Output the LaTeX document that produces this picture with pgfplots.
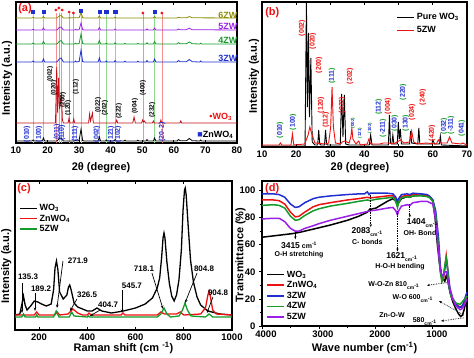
\documentclass[border=0pt]{standalone}
\usepackage{fontspec}
\setmainfont{Liberation Sans}
\usepackage{pgfplots}
\pgfplotsset{compat=1.18}
\usetikzlibrary{arrows.meta}
\definecolor{olv}{HTML}{8C8C00}
\definecolor{prp}{HTML}{9B1FE8}
\definecolor{grn}{HTML}{149B2A}
\definecolor{blu}{HTML}{1F2FD0}
\definecolor{rd}{HTML}{EE1111}
\definecolor{dred}{HTML}{C0101A}
\definecolor{lgrn}{HTML}{8FD88F}
\definecolor{lred}{HTML}{F59090}
\pgfplotsset{
  myax/.style={scale only axis, axis line style={line width=1.3pt},
    tick style={line width=0.8pt, black}, major tick length=3pt, minor tick length=2pt,
    ticklabel style={font=\bfseries\fontsize{9.5}{10}\selectfont},
    /pgf/number format/assume math mode=true, /pgf/number format/1000 sep={},
    label style={font=\bfseries\fontsize{11}{12}\selectfont},
    clip=false, legend cell align=left,
  }
}
\newcommand{\gb}[1]{{\color{grn}(}#1{\color{grn})}}
\begin{document}
\begin{tikzpicture}
\useasboundingbox (0,0) rectangle (474pt,357pt);
% ---------------- (a)
\begin{axis}[myax, at={(16pt,355pt)}, anchor=north west, width=221pt, height=141pt,
  xmin=10, xmax=80, ymin=0, ymax=141, xtick={10,20,...,80}, ytick=\empty, tick align=inside,
  xlabel={2θ (degree)}, ylabel={Intenisty (a.u.)},
  xlabel style={at={(axis description cs:0.385,-0.177)}, anchor=center},
  ylabel style={at={(axis description cs:-0.041,0.46)}, anchor=center}]
\addplot[ycomb, draw=lgrn, line width=0.6pt] coordinates {(15.4,130)(18.7,130)(30.6,130)(36.4,130)(38.6,130)(41.4,130)(53.9,130)};
\addplot[ycomb, draw=lred, line width=0.6pt] coordinates {(22.9,130)(23.6,130)(24.5,130)(26.8,130)(28.2,130)(50.2,130)(56.2,130)};
\addplot[only marks, mark=square*, mark size=1.6pt, blu] coordinates {(15.4,131)(18.7,131)(30.6,132)(36.4,131)(38.6,131)(41.4,131)(53.9,131)};
\addplot[only marks, mark=*, mark size=1.2pt, rd] coordinates {(22.6,133)(23.6,135)(24.6,133)(26.8,131)(28.2,130)(50.2,130)(56.2,130)};
\addplot[black, line width=0.8pt] coordinates {(10,2)(15.0,2)(15.4,3)(15.8,2)(18.3,2)(18.7,5)(19.1,2)(23.0,2)(23.7,4.5)(24.3,5)(25.0,2)(28.6,2)(28.9,3)(29.2,2)(30.0,2.5)(30.6,14)(31.1,2.5)(31.6,2)(36.0,2)(36.4,6)(36.8,2)(38.3,2)(38.6,3)(38.9,2)(41.1,2)(41.4,3.5)(41.7,2)(44.2,2)(44.5,2.8)(44.8,2)(48.3,2)(48.6,2.8)(48.9,2)(51.2,2)(51.5,3.5)(51.8,2)(53.5,2)(53.9,5)(54.3,2)(61.0,2)(61.5,3.5)(62.0,2.3)(64.0,2.3)(64.9,4.5)(65.8,2.3)(68.2,2)(68.5,3)(68.8,2)(80,2)};
\addplot[dred, line width=0.8pt] coordinates {(10,20)(22.5,20)(22.9,76)(23.2,30)(23.5,65)(23.8,34)(24.4,50)(24.7,23)(25.0,20)(26.5,20)(26.8,25)(27.1,20)(28.0,20)(28.3,24)(28.6,20)(33.0,20)(33.3,29)(33.6,22)(34.2,30)(34.5,20)(41.6,20)(41.9,23)(42.2,20)(47.0,20)(47.4,26)(47.8,20)(49.8,20)(50.1,23)(50.4,21)(50.7,22)(51.0,20)(53.2,20)(53.5,22)(53.8,20)(55.6,20)(55.9,23)(56.2,20)(61.9,20)(62.2,22)(62.5,20)(80,20)};
\addplot[blu, line width=0.8pt] coordinates {(10,81)(15.0,81)(15.4,82)(15.8,81)(18.3,81)(18.7,84)(19.1,81)(23.0,81)(23.7,84)(24.3,85)(25.0,81)(28.6,81)(28.9,82)(29.2,81)(30.0,81.5)(30.6,93)(31.1,81.5)(31.6,81)(36.0,81)(36.4,85)(36.8,81)(38.3,81)(38.6,82)(38.9,81)(41.1,81)(41.4,82.5)(41.7,81)(44.2,81)(44.5,81.8)(44.8,81)(48.3,81)(48.6,81.8)(48.9,81)(51.2,81)(51.5,82.5)(51.8,81)(53.5,81)(53.9,84)(54.3,81)(61.0,81)(61.5,82.5)(62.0,81.3)(64.0,81.3)(64.9,83.5)(65.8,81.3)(68.2,81)(68.5,82)(68.8,81)(80,81)};
\addplot[grn, line width=0.8pt] coordinates {(10,99)(15.0,99)(15.4,100)(15.8,99)(18.3,99)(18.7,101.5)(19.1,99)(23.0,99)(23.7,101.5)(24.3,102.5)(25.0,99)(28.6,99)(28.9,99.8)(29.2,99)(30.0,99.5)(30.6,109)(31.1,99.5)(31.6,99)(36.0,99)(36.4,102.5)(36.8,99)(38.3,99)(38.6,99.8)(38.9,99)(41.1,99)(41.4,100.3)(41.7,99)(44.2,99)(44.5,99.7)(44.8,99)(48.3,99)(48.6,99.7)(48.9,99)(51.2,99)(51.5,100.3)(51.8,99)(53.5,99)(53.9,101.5)(54.3,99)(61.0,99)(61.5,100.3)(62.0,99.3)(64.0,99.3)(64.9,101)(65.8,99.3)(68.2,99)(68.5,99.8)(68.8,99)(80,99)};
\addplot[prp, line width=0.8pt] coordinates {(10,113)(15.0,113)(15.4,113.7)(15.8,113)(18.3,113)(18.7,115)(19.1,113)(23.0,113)(23.7,115.5)(24.3,116)(25.0,113)(28.6,113)(28.9,113.7)(29.2,113)(30.0,113.4)(30.6,120)(31.1,113.4)(31.6,113)(36.0,113)(36.4,115.5)(36.8,113)(41.1,113)(41.4,114)(41.7,113)(51.2,113)(51.5,114)(51.8,113)(53.5,113)(53.9,115)(54.3,113)(61.0,113)(61.5,114)(62.0,113.3)(64.0,113.3)(64.9,114.8)(65.8,113.3)(80,113)};
\addplot[olv, line width=0.8pt] coordinates {(10,125)(15.0,125)(15.4,125.6)(15.8,125)(18.3,125)(18.7,126.5)(19.1,125)(23.0,125)(23.7,127)(24.3,127.5)(25.0,125)(30.0,125.3)(30.6,130.5)(31.1,125.3)(31.6,125)(36.0,125)(36.4,127)(36.8,125)(41.1,125)(41.4,125.8)(41.7,125)(53.5,125)(53.9,126.5)(54.3,125)(61.0,125)(61.5,125.8)(62.0,125.2)(64.0,125.2)(64.9,126.5)(65.8,125.2)(80,125)};
\node[font=\bfseries\fontsize{11}{12}\selectfont, text=rd, anchor=north west, inner sep=1pt] at (rel axis cs:0.005,0.995) {(a)};
\begin{scope}[every node/.style={font=\bfseries\fontsize{9}{10}\selectfont, anchor=west, inner sep=0pt}]
\node[text=olv] at (axis cs:74,128) {6ZW};
\node[text=prp] at (axis cs:74,117) {5ZW};
\node[text=grn] at (axis cs:74,103) {4ZW};
\node[text=blu] at (axis cs:74,85) {3ZW};
\node[text=rd] at (axis cs:71.2,26) {•WO\textsubscript{3}};
\node at (axis cs:67.4,8) {{\color{blu}■}ZnWO\textsubscript{4}};
\end{scope}
\begin{scope}[every node/.style={font=\bfseries\fontsize{6.5}{7}\selectfont, rotate=90, inner sep=0pt}]
\node at (axis cs:20.8,69) {(002)};
\node at (axis cs:22.0,55) {(020)};
\node at (axis cs:24.9,43) {(200)};
\node at (axis cs:26.5,35) {(120)};
\node at (axis cs:29.0,56) {(112)};
\node at (axis cs:36.0,38) {(022)};
\node at (axis cs:38.2,35) {(202)};
\node at (axis cs:42.6,32) {(222)};
\node at (axis cs:47.7,37) {(004)};
\node at (axis cs:50.2,55) {(400)};
\node at (axis cs:53.1,33) {(232)};
\end{scope}
\begin{scope}[every node/.style={font=\bfseries\fontsize{7}{7}\selectfont, rotate=90, inner sep=0pt, text=blu}]
\node at (axis cs:13.5,9) {(010)};
\node at (axis cs:17.3,9) {(100)};
\node at (axis cs:23.0,11) {(011)};
\node at (axis cs:24.6,10) {(110)};
\node at (axis cs:28.7,9) {(111)};
\node at (axis cs:35.6,9) {(002)};
\node at (axis cs:40.1,9) {(121)};
\node at (axis cs:42.3,9) {(102)};
\node at (axis cs:56.3,11) {(20-2)};
\end{scope}
\end{axis}
% ---------------- (b)
\begin{axis}[myax, at={(262pt,355pt)}, anchor=north west, width=205pt, height=145pt,
  xmin=10, xmax=70, ymin=0, ymax=145, xtick={10,20,...,70}, ytick=\empty, tick align=inside,
  xlabel={2θ (degree)}, ylabel={Intensity (a.u.)},
  xlabel style={at={(axis description cs:0.478,-0.145)}, anchor=center},
  ylabel style={at={(axis description cs:-0.039,0.49)}, anchor=center},
  legend style={at={(0.985,0.95)}, anchor=north east, draw=none, fill=none, font=\bfseries\fontsize{9}{10}\selectfont, row sep=1pt}]
\addplot[black, line width=0.9pt] coordinates {(10,1)(22.6,1)(23.0,145)(23.3,40)(23.6,114)(23.9,30)(24.3,89)(24.7,5)(25.5,2)(26.3,2)(26.6,17)(26.9,3)(27.2,2)(28.3,2)(28.6,17)(28.9,3)(29.2,2)(32.9,2)(33.3,53)(33.7,10)(34.1,52)(34.5,3)(35.5,2)(41.4,2)(41.8,12)(42.2,2)(47.0,2)(47.3,32)(47.6,4)(48.0,3)(48.3,12)(48.6,3)(49.6,3)(49.9,25)(50.2,8)(50.5,18)(50.8,3)(53.2,3)(53.5,16)(53.8,4)(55.6,3)(55.9,19)(56.2,3)(59.7,3)(60.0,7)(60.5,3)(61.9,3)(62.2,11)(62.5,2)(70,1)};
\addlegendentry{Pure WO\textsubscript{3}}
\addplot[rd, line width=0.9pt] coordinates {(10,2)(15.0,2)(15.4,4)(15.8,2)(18.5,2)(18.9,13)(19.3,2)(22.5,3)(23.5,12)(24.0,20)(24.5,14)(25.5,4)(28.5,3)(29.5,4)(30.1,20)(30.5,60)(30.9,20)(31.5,4)(33.0,3)(33.5,5)(34.2,6)(35.5,4)(36.0,10)(36.3,19)(36.6,8)(37.5,3)(38.3,6)(38.8,2)(40.8,3)(41.3,8)(41.8,3)(44.5,3)(45.5,4)(47.0,4)(48.5,3)(50.5,7)(51.5,4)(53.2,5)(53.8,16)(54.4,5)(55.5,3)(58,4)(61.0,3)(61.6,7)(62.2,4)(64.2,4)(64.9,10)(65.6,4)(68.3,3)(68.7,4)(70,2)};
\addlegendentry{5ZW}
\node[font=\bfseries\fontsize{11}{12}\selectfont, text=rd, anchor=north west, inner sep=1pt] at (rel axis cs:0.01,0.97) {(b)};
\begin{scope}[every node/.style={font=\bfseries\fontsize{7}{7}\selectfont, rotate=90, inner sep=0pt, text=rd}]
\node at (axis cs:21.7,119) {(002)};
\node at (axis cs:24.9,106) {(020)};
\node at (axis cs:26.7,82) {(200)};
\node at (axis cs:27.3,42) {(120)};
\node at (axis cs:28.7,27) {(112)};
\node at (axis cs:33.4,42) {(022)};
\node at (axis cs:35.8,71) {(202)};
\node at (axis cs:46.9,41) {(004)};
\node at (axis cs:53.9,35) {(024)};
\node at (axis cs:57.1,50) {(240)};
\node at (axis cs:59.8,14) {(420)};
\end{scope}
\begin{scope}[every node/.style={font=\bfseries\fontsize{7}{7}\selectfont, rotate=90, inner sep=0pt, text=blu}]
\node at (axis cs:15.3,17) {\gb{010}};
\node at (axis cs:19.1,25) {\gb{100}};
\node at (axis cs:30.5,71) {\gb{111}};
\node at (axis cs:44.2,40) {\gb{112}};
\node at (axis cs:45.4,19) {\gb{-211}};
\node at (axis cs:48.9,24) {\gb{030}};
\node at (axis cs:51.3,55) {\gb{220}};
\node at (axis cs:52.1,24) {\gb{130}};
\node at (axis cs:63.3,21) {\gb{032}};
\node at (axis cs:65.3,22) {\gb{-311}};
\node at (axis cs:68.5,19) {\gb{041}};
\end{scope}
\begin{scope}[every node/.style={font=\bfseries\fontsize{4.5}{5}\selectfont, rotate=90, inner sep=0pt, text=blu}]
\node at (axis cs:36.6,24) {\gb{002}};
\node at (axis cs:38.7,14) {\gb{121}};
\node at (axis cs:41.6,19) {\gb{102}};
\end{scope}
\end{axis}
% ---------------- (c)
\begin{axis}[myax, at={(15pt,176pt)}, anchor=north west, width=217pt, height=149pt,
  xmin=100, xmax=1000, ymin=0, ymax=149, xtick={200,400,...,1000}, ytick=\empty, tick align=inside,
  xlabel={Raman shift (cm \textsuperscript{-1})}, ylabel={Intensity (a.u.)},
  xlabel style={at={(axis description cs:0.5,-0.12)}, anchor=center},
  ylabel style={at={(axis description cs:-0.04,0.43)}, anchor=center},
  legend style={at={(0.005,0.87)}, anchor=north west, draw=none, fill=none, font=\bfseries\fontsize{9}{10}\selectfont, row sep=-1.5pt}]
\addplot[black, line width=1.3pt] coordinates {(100,15)(120,16)(128,25)(135,34)(142,25)(150,20)(165,24)(180,29)(195,28)(210,26)(230,24)(250,26)(260,40)(266,62)(272,69)(278,60)(285,38)(300,31)(315,35)(322,43)(327,45)(333,40)(345,27)(360,23)(400,19)(420,19)(440,22)(460,19)(500,17)(550,19)(600,22)(640,26)(670,32)(690,42)(700,52)(708,72)(714,92)(718,97)(722,92)(730,68)(740,47)(750,34)(760,29)(770,35)(780,50)(790,80)(797,120)(803,140)(806,142)(810,135)(818,105)(828,70)(840,48)(855,33)(870,25)(900,19)(950,16)(1000,15)};
\addlegendentry{WO\textsubscript{3}}
\addplot[rd, line width=1.3pt] coordinates {(100,15)(180,15)(190,18)(200,15)(265,15)(275,18)(285,15)(320,16)(340,21)(360,17)(380,15)(400,15)(407,17)(415,15)(540,15)(548,17)(556,15)(690,15)(705,18)(720,16)(770,16)(785,18)(800,15)(870,16)(890,22)(900,35)(905,39)(910,34)(920,20)(935,16)(1000,15)};
\addlegendentry{ZnWO\textsubscript{4}}
\addplot[grn, line width=1.3pt] coordinates {(100,13)(128,13)(135,16)(142,13)(185,13)(190,15)(195,13)(260,13)(271,19)(282,13)(325,13)(335,18)(345,14)(400,13)(405,14)(410,13)(690,13)(705,16)(718,22)(730,16)(745,13)(780,14)(795,20)(805,27)(815,20)(830,14)(890,13)(905,16)(920,13)(1000,13)};
\addlegendentry{5ZW}
\node[font=\bfseries\fontsize{11}{12}\selectfont, text=rd, anchor=north west, inner sep=1pt] at (rel axis cs:0.005,0.99) {(c)};
\begin{scope}[every node/.style={font=\bfseries\fontsize{8}{9}\selectfont, inner sep=0pt}, arr/.style={-{Stealth[length=3.5pt]}, line width=0.7pt}]
\node at (axis cs:154,53) {135.3};
\draw[arr] (axis cs:129,47) -- (axis cs:129,17);
\node at (axis cs:208,41) {189.2};
\draw[arr] (axis cs:183,37) -- (axis cs:183,19);
\node at (axis cs:361,69) {271.9};
\draw[arr] (axis cs:299,69) -- (axis cs:274,22);
\node at (axis cs:399,35) {326.5};
\draw[arr] (axis cs:357,31) -- (axis cs:328,19);
\node at (axis cs:486,25) {404.7};
\draw[arr] (axis cs:453,20) -- (axis cs:411,14);
\node at (axis cs:585,44) {545.7};
\draw[arr] (axis cs:544,40) -- (axis cs:544,17);
\node at (axis cs:635,61) {718.1};
\draw[arr] (axis cs:668,57) -- (axis cs:714,21);
\node at (axis cs:884,61) {804.8};
\draw[arr] (axis cs:855,57) -- (axis cs:805,27);
\node at (axis cs:942,37) {904.8};
\draw[arr] (axis cs:921,33) -- (axis cs:896,17);
\end{scope}
\end{axis}
% ---------------- (d)
\begin{axis}[myax, at={(262pt,176pt)}, anchor=north west, width=205pt, height=145pt,
  x dir=reverse, xmin=400, xmax=4000, ymin=0, ymax=107, xtick={1000,2000,3000,4000}, ytick={0,20,...,100},
  minor x tick num=1, minor y tick num=1, tick align=outside, xtick pos=bottom, ytick pos=left,
  xticklabel style={yshift=2pt, xshift=4pt},
  xlabel={Wave number (cm\textsuperscript{-1})}, ylabel={Transmittance (\%)},
  xlabel style={at={(axis description cs:0.5,-0.15)}, anchor=center},
  ylabel style={at={(axis description cs:-0.105,0.49)}, anchor=center},
  legend style={at={(0.005,0.41)}, anchor=north west, draw=none, fill=none, font=\bfseries\fontsize{9}{10}\selectfont, row sep=-1.2pt}]
\addplot[black, line width=1.5pt] coordinates {(4000,65.5)(3800,66.5)(3600,67.5)(3500,68)(3415,68.5)(3300,69.5)(3000,72.5)(2800,74.5)(2500,78)(2300,81)(2150,84)(2100,86.5)(2083,86)(2060,86.5)(2000,87)(1900,89.5)(1800,92)(1700,94)(1650,92)(1621,89)(1600,91)(1550,94)(1450,95.5)(1404,95)(1350,96)(1200,96.5)(1100,96)(1050,95)(1000,92)(960,80)(920,60)(880,45)(850,38)(820,35)(790,33)(760,38)(740,34)(700,25)(650,18)(600,13)(550,9)(510,7)(480,8)(450,12)(420,18)(400,23)};
\addlegendentry{WO\textsubscript{3}}
\addplot[rd, line width=1.5pt] coordinates {(4000,93)(3800,93)(3700,92.5)(3600,90)(3500,84)(3415,80.5)(3350,81)(3250,84)(3100,88)(3000,89.5)(2800,91)(2500,93)(2300,94)(2150,95)(2100,94.5)(2000,95)(1800,96)(1700,96)(1650,93)(1621,88.5)(1600,92)(1550,95.5)(1450,96.5)(1404,96)(1350,97)(1200,96.5)(1100,96)(1050,95)(1000,93)(950,82)(900,60)(870,42)(840,33)(810,35)(785,45)(765,52)(745,45)(720,32)(680,22)(600,16)(520,14)(480,15)(440,18)(400,22)};
\addlegendentry{ZnWO\textsubscript{4}}
\addplot[blu, line width=1.5pt] coordinates {(4000,97.5)(3800,97.5)(3700,97)(3600,95)(3500,90)(3415,87.5)(3350,88)(3250,91)(3100,94)(3000,95)(2800,96)(2500,97)(2300,97.5)(2200,97.5)(2150,99)(2120,97)(2100,98)(2000,98)(1800,98)(1700,97.5)(1650,95)(1621,91.5)(1600,94)(1550,97)(1450,97.5)(1404,97)(1350,98)(1200,97.5)(1100,97)(1050,95.5)(1000,93)(950,85)(900,65)(870,45)(840,35)(810,38)(780,45)(760,48)(740,42)(700,28)(650,20)(600,17)(550,14)(500,14)(470,16)(440,20)(400,25)};
\addlegendentry{3ZW}
\addplot[grn, line width=1.5pt] coordinates {(4000,89)(3800,89.5)(3700,89)(3600,87)(3500,81)(3415,78)(3350,78.5)(3250,81.5)(3100,85)(3000,86.5)(2800,88.5)(2500,90.5)(2300,92)(2150,93)(2100,92.5)(2000,93.5)(1800,94.5)(1700,95)(1650,92)(1621,87.5)(1600,91.5)(1550,94.5)(1450,95.5)(1404,95)(1350,96)(1200,96)(1100,95.5)(1050,94.5)(1000,92)(950,82)(900,58)(870,40)(840,33)(810,37)(785,46)(765,50)(745,44)(720,30)(680,22)(600,17)(520,16)(480,18)(440,20)(400,22)};
\addlegendentry{4ZW}
\addplot[prp, line width=1.5pt] coordinates {(4000,79)(3800,79.5)(3700,79.5)(3600,77)(3500,72)(3415,70)(3350,70)(3250,72)(3100,74)(3000,75.5)(2800,78)(2500,81)(2300,83)(2150,84.5)(2100,85)(2000,85.5)(1800,87)(1700,87.5)(1650,85)(1621,82)(1600,85)(1550,88.5)(1450,89.5)(1404,89)(1350,91)(1200,92)(1100,92)(1050,91)(1000,90)(950,78)(900,55)(870,42)(840,37)(810,38)(785,40)(760,40)(740,36)(700,27)(650,20)(600,15)(520,12)(480,13)(440,16)(400,20)};
\addlegendentry{5ZW}
\node[font=\bfseries\fontsize{11}{12}\selectfont, text=rd, anchor=north west, inner sep=1pt] at (rel axis cs:0.01,0.99) {(d)};
\begin{scope}[every node/.style={font=\bfseries\fontsize{7}{8}\selectfont, inner sep=0pt}, arr/.style={-{Stealth[length=3pt]}, line width=0.6pt}, dar/.style={densely dotted, -{Stealth[length=3pt]}, line width=0.7pt}]
\node at (axis cs:3350,59.5) {{\fontsize{8.5}{9}\selectfont 3415} cm\textsuperscript{-1}};
\node at (axis cs:3350,52.3) {O-H stretching};
\draw[arr] (axis cs:3415,69) -- (axis cs:3415,64);
\node at (axis cs:2150,69) {{\fontsize{8.5}{9}\selectfont 2083}\textsubscript{cm\textsuperscript{-1}}};
\node at (axis cs:2150,61.8) {C- bonds};
\draw[dar] (axis cs:2090,97) -- (axis cs:2090,73);
\node at (axis cs:1540,51) {{\fontsize{8.5}{9}\selectfont 1621}\textsubscript{cm\textsuperscript{-1}}};
\node at (axis cs:1577,43.5) {H-O-H bending};
\draw[dar] (axis cs:1621,85) -- (axis cs:1621,55);
\node at (axis cs:1180,76) {{\fontsize{8.5}{9}\selectfont 1404}\textsubscript{cm\textsuperscript{-1}}};
\node at (axis cs:1226,68.5) {OH- Bond};
\draw[dar] (axis cs:1404,90) -- (axis cs:1404,80);
\node at (axis cs:1682,30) {W-O-Zn 810\textsubscript{cm\textsuperscript{-1}}};
\draw[dar] (axis cs:751,32) -- (axis cs:1103,30);
\node at (axis cs:1348,20) {W-O 600\textsubscript{cm\textsuperscript{-1}}};
\draw[dar] (axis cs:453,8) -- (axis cs:892,18.5);
\node at (axis cs:1717,8) {Zn-O-W};
\node at (axis cs:1138,3) {580\textsubscript{cm\textsuperscript{-1}}};
\draw[dar] (axis cs:453,6) -- (axis cs:857,3.7);
\end{scope}
\end{axis}
\end{tikzpicture}
\end{document}
